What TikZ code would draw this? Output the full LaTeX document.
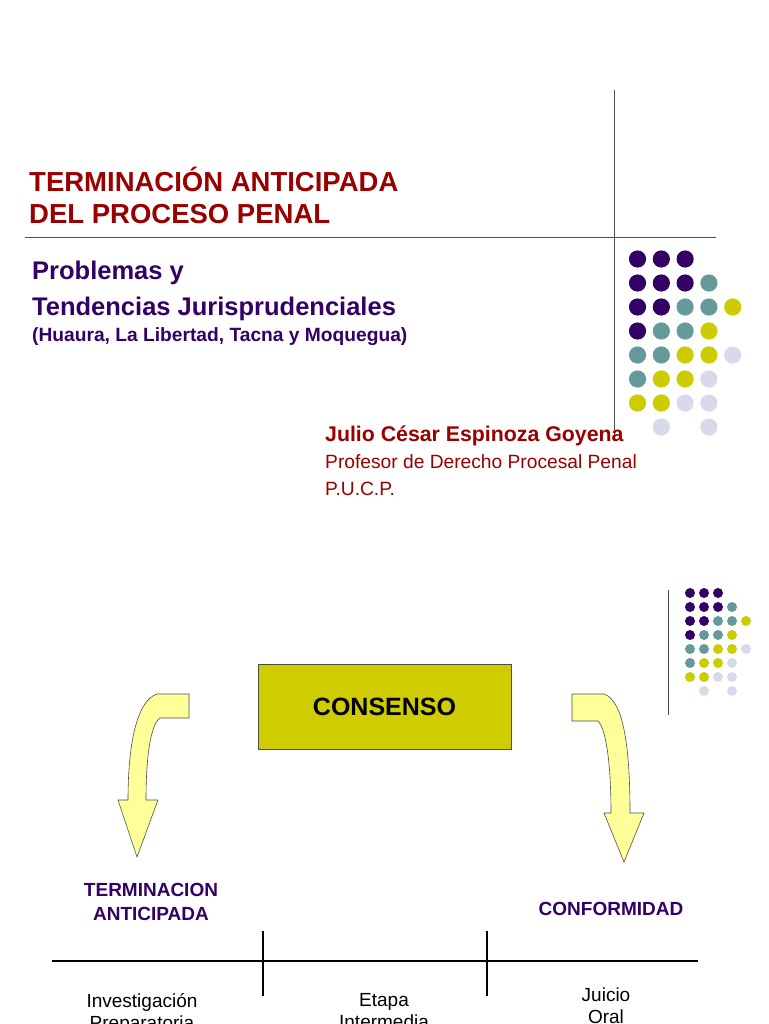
\documentclass[tikz,border=0pt]{standalone}
\usepackage{fontspec}
\setmainfont{Liberation Sans}
\definecolor{dred}{HTML}{990000}
\definecolor{dpur}{HTML}{330066}
\definecolor{cP}{HTML}{330066}
\definecolor{cT}{HTML}{669999}
\definecolor{cY}{HTML}{CCCC00}
\definecolor{cL}{HTML}{D9D9EC}
\definecolor{box}{HTML}{CFCC00}
\definecolor{arr}{HTML}{FFFF99}
\tikzset{t/.style={anchor=west,inner sep=0pt,font=\bfseries},
 ln/.style={draw=black!70,line width=0.8pt},
 arrw/.style={draw=black!70,fill=arr,line width=0.6pt}}
\begin{document}
\begin{tikzpicture}[x=1pt,y=-1pt]
\useasboundingbox (0,0) rectangle (768,1024);
% lines
\draw[ln] (614,90) -- (614,440);
\draw[ln] (25,237) -- (716,237);
\draw[ln] (668,590) -- (668,715);
% titles
\node[t,text=dred,font=\bfseries\fontsize{27.5}{30}\selectfont] (t1) at (29,179) {TERMINACIÓN ANTICIPADA};
\node[t,text=dred,font=\bfseries\fontsize{27.5}{30}\selectfont] (t2) at (29,214) {DEL PROCESO PENAL};
\node[t,text=dpur,font=\bfseries\fontsize{25.5}{28}\selectfont] (p1) at (32,273) {Problemas y};
\node[t,text=dpur,font=\bfseries\fontsize{25.5}{28}\selectfont] (p2) at (32,309) {Tendencias Jurisprudenciales};
\node[t,text=dpur,font=\bfseries\fontsize{19.2}{22}\selectfont] (p3) at (32,337) {(Huaura, La Libertad, Tacna y Moquegua)};
\node[t,text=dred,font=\bfseries\fontsize{21.3}{24}\selectfont] (n1) at (325,436) {Julio César Espinoza Goyena};
\node[t,text=dred,font=\fontsize{19.2}{22}\selectfont] (n2) at (325,462) {Profesor de Derecho Procesal Penal};
\node[t,text=dred,font=\fontsize{19.2}{22}\selectfont] (n3) at (325,489) {P.U.C.P.};
% dots
\foreach \r/\c/\k in {0/0/P,0/1/P,0/2/P,
 1/0/P,1/1/P,1/2/P,1/3/T,
 2/0/P,2/1/P,2/2/T,2/3/T,2/4/Y,
 3/0/P,3/1/T,3/2/T,3/3/Y,
 4/0/T,4/1/T,4/2/Y,4/3/Y,4/4/L,
 5/0/T,5/1/Y,5/2/Y,5/3/L,
 6/0/Y,6/1/Y,6/2/L,6/3/L,
 7/1/L,7/3/L}{
  \fill[color=c\k] ({637.5+\c*23.8},{259+\r*24}) circle (8.6);
  \fill[color=c\k] ({690+\c*14},{593+\r*14}) circle (5);
}
% consenso
\node[draw=black!70,fill=box,minimum width=253pt,minimum height=85pt,font=\bfseries\fontsize{25}{28}\selectfont] (c) at (384.5,706.5) {CONSENSO};
% arrows
\draw[arrw] (189,694) -- (189,718) -- (160,718) .. controls (150,725) and (146,760) .. (146,800) -- (158,800) -- (137,857) -- (118,800) -- (128,800) .. controls (128,740) and (138,700) .. (157,694) -- cycle;
\draw[arrw] (572,694) -- (572,721) -- (598,721) .. controls (607,730) and (611,770) .. (611,813) -- (604,813) -- (624,862) -- (644,813) -- (630,813) .. controls (630,740) and (622,700) .. (604,694) -- cycle;
% labels
\node[align=center,text=dpur,font=\bfseries\fontsize{19}{24}\selectfont] (ta) at (151,902) {TERMINACION\\ANTICIPADA};
\node[text=dpur,font=\bfseries\fontsize{19}{22}\selectfont] (cf) at (611,909) {CONFORMIDAD};
% timeline
\draw[black,line width=1.3pt] (52,961) -- (698,961);
\draw[black,line width=1.3pt] (263,931) -- (263,996);
\draw[black,line width=1.3pt] (487,931) -- (487,996);
\node[align=center,anchor=north,font=\fontsize{19}{22}\selectfont] (s1) at (142,990) {Investigación\\Preparatoria};
\node[align=center,anchor=north,font=\fontsize{19}{22}\selectfont] (s2) at (384,990) {Etapa\\Intermedia};
\node[align=center,anchor=north,font=\fontsize{19}{22}\selectfont] (s3) at (606,984) {Juicio\\Oral};
\end{tikzpicture}
\end{document}
